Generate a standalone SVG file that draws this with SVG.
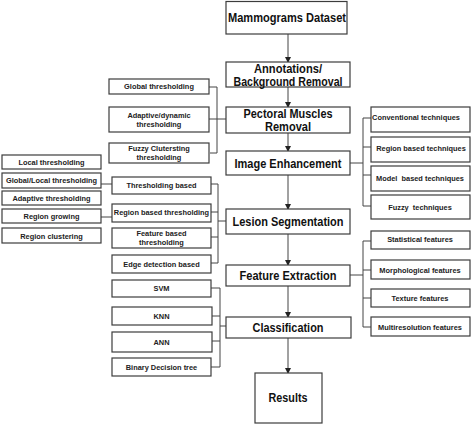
<svg xmlns="http://www.w3.org/2000/svg" width="474" height="426" viewBox="0 0 474 426">
<style>
.box{fill:#fff;stroke:#3c3c3c;stroke-width:1.2}
.main{font-family:"Liberation Sans",Arial,sans-serif;font-weight:bold;font-size:12.5px;fill:#111;text-anchor:middle}
.sm{font-family:"Liberation Sans",Arial,sans-serif;font-weight:bold;font-size:7.4px;fill:#222;text-anchor:middle}
.ln{fill:none;stroke:#444;stroke-width:1}
</style>
<defs>
<marker id="ah" markerWidth="6" markerHeight="6" refX="5" refY="3" orient="auto" markerUnits="userSpaceOnUse">
<path d="M0,0 L6,3 L0,6 Z" fill="#222"/>
</marker>
</defs>
<rect width="474" height="426" fill="#fff"/>
<g id="connectors">
<line class="ln" x1="288" y1="34" x2="288" y2="62" marker-end="url(#ah)"/>
<line class="ln" x1="288" y1="87" x2="288" y2="107" marker-end="url(#ah)"/>
<line class="ln" x1="288" y1="133" x2="288" y2="151" marker-end="url(#ah)"/>
<line class="ln" x1="288" y1="175" x2="288" y2="209" marker-end="url(#ah)"/>
<line class="ln" x1="288" y1="234" x2="288" y2="265" marker-end="url(#ah)"/>
<line class="ln" x1="288" y1="286" x2="288" y2="317" marker-end="url(#ah)"/>
<line class="ln" x1="288" y1="338" x2="288" y2="373" marker-end="url(#ah)"/>
<path class="ln" d="M209,87 H217 V153 H210 M209,119 H226"/>
<path class="ln" d="M211,184 H218 V263 H211 M211,212 H218 M211,237 H218 M218,221 H226"/>
<path class="ln" d="M101,184 H112 M101,217 H112"/>
<path class="ln" d="M211,288 H220 V367 H211 M212,316 H220 M212,341 H220 M220,326 H226"/>
<path class="ln" d="M350,163 H363 M371,118 H363 V206 H371 M363,147 H371 M363,175 H371"/>
<path class="ln" d="M350,275 H363 M371,241 H363 V327 H371 M363,270 H371 M363,298 H371"/>
</g>
<g id="n-mammograms"><rect class="box" x="226" y="1.5" width="121" height="32.5"/><text class="main" x="287" y="22" textLength="118" lengthAdjust="spacingAndGlyphs">Mammograms Dataset</text></g>
<g id="n-annotations"><rect class="box" x="226" y="62" width="124" height="25"/><text class="main" x="288" y="72.5" textLength="68" lengthAdjust="spacingAndGlyphs">Annotations/</text><text class="main" x="288" y="86" textLength="109" lengthAdjust="spacingAndGlyphs">Background Removal</text></g>
<g id="n-pectoral"><rect class="box" x="226" y="107" width="124" height="26"/><text class="main" x="288" y="117.5" textLength="89" lengthAdjust="spacingAndGlyphs">Pectoral Muscles</text><text class="main" x="288" y="131" textLength="46" lengthAdjust="spacingAndGlyphs">Removal</text></g>
<g id="n-enhancement"><rect class="box" x="226" y="151" width="124" height="24"/><text class="main" x="288" y="167.5" textLength="107" lengthAdjust="spacingAndGlyphs">Image Enhancement</text></g>
<g id="n-lesion"><rect class="box" x="226" y="209" width="124" height="25"/><text class="main" x="288" y="225.5" textLength="111" lengthAdjust="spacingAndGlyphs">Lesion Segmentation</text></g>
<g id="n-feature"><rect class="box" x="226" y="265" width="124" height="21"/><text class="main" x="288" y="279.5" textLength="97" lengthAdjust="spacingAndGlyphs">Feature Extraction</text></g>
<g id="n-classification"><rect class="box" x="226" y="317" width="125" height="21"/><text class="main" x="288" y="331.5" textLength="71" lengthAdjust="spacingAndGlyphs">Classification</text></g>
<g id="n-results"><rect class="box" x="255" y="373" width="67" height="50"/><text class="main" x="288" y="401.5" textLength="39" lengthAdjust="spacingAndGlyphs">Results</text></g>

<g id="n-global-th"><rect class="box" x="109" y="79" width="100" height="15"/><text class="sm" x="159" y="89">Global thresholding</text></g>
<g id="n-adaptive-dyn"><rect class="box" x="109" y="107" width="100" height="25"/><text class="sm" x="159" y="118">Adaptive/dynamic</text><text class="sm" x="159" y="127">thresholding</text></g>
<g id="n-fuzzy-clu"><rect class="box" x="109" y="143" width="100" height="20"/><text class="sm" x="159" y="151">Fuzzy Clutersting</text><text class="sm" x="159" y="160">thresholding</text></g>

<g id="n-local-th"><rect class="box" x="2" y="155" width="99" height="14"/><text class="sm" x="51.5" y="165">Local thresholding</text></g>
<g id="n-globallocal-th"><rect class="box" x="2" y="173" width="99" height="15"/><text class="sm" x="51.5" y="183">Global/Local thresholding</text></g>
<g id="n-adaptive-th"><rect class="box" x="2" y="191" width="99" height="14"/><text class="sm" x="51.5" y="200.5">Adaptive thresholding</text></g>
<g id="n-region-grow"><rect class="box" x="2" y="209" width="99" height="14"/><text class="sm" x="51.5" y="219">Region growing</text></g>
<g id="n-region-clu"><rect class="box" x="2" y="228" width="99" height="15"/><text class="sm" x="51.5" y="238.5">Region clustering</text></g>

<g id="n-thresh-based"><rect class="box" x="112" y="177" width="99" height="17"/><text class="sm" x="161.5" y="187.5">Thresholding based</text></g>
<g id="n-region-thresh"><rect class="box" x="112" y="204" width="99" height="18"/><text class="sm" x="161.5" y="215">Region based thresholding</text></g>
<g id="n-feature-thresh"><rect class="box" x="112" y="228" width="99" height="20"/><text class="sm" x="161.5" y="236">Feature based</text><text class="sm" x="161.5" y="244.5">thresholding</text></g>
<g id="n-edge"><rect class="box" x="112" y="255" width="99" height="18"/><text class="sm" x="161.5" y="266.5">Edge detection based</text></g>

<g id="n-svm"><rect class="box" x="112" y="280" width="99" height="17"/><text class="sm" x="161.5" y="290.5">SVM</text></g>
<g id="n-knn"><rect class="box" x="112" y="307" width="100" height="18"/><text class="sm" x="161.5" y="318.5">KNN</text></g>
<g id="n-ann"><rect class="box" x="112" y="332" width="100" height="20"/><text class="sm" x="161.5" y="344.5">ANN</text></g>
<g id="n-bdt"><rect class="box" x="112" y="358" width="99" height="18"/><text class="sm" x="161.5" y="370">Binary Decision tree</text></g>

<g id="n-conventional"><rect class="box" x="371" y="107" width="99" height="25"/><text class="sm" x="416" y="120">Conventional techniques</text></g>
<g id="n-region-tech"><rect class="box" x="371" y="137" width="99" height="25"/><text class="sm" x="421" y="151" xml:space="preserve">Region based techniques</text></g>
<g id="n-model-tech"><rect class="box" x="371" y="166" width="99" height="25"/><text class="sm" x="420" y="180.5" xml:space="preserve">Model  based techniques</text></g>
<g id="n-fuzzy-tech"><rect class="box" x="371" y="195" width="99" height="24"/><text class="sm" x="420" y="209.5" xml:space="preserve">Fuzzy  techniques</text></g>

<g id="n-statistical"><rect class="box" x="371" y="231" width="99" height="18"/><text class="sm" x="420" y="241.5">Statistical features</text></g>
<g id="n-morph"><rect class="box" x="371" y="260" width="99" height="19"/><text class="sm" x="420" y="272.5">Morphological features</text></g>
<g id="n-texture"><rect class="box" x="371" y="289" width="99" height="18"/><text class="sm" x="420" y="300.5">Texture features</text></g>
<g id="n-multires"><rect class="box" x="371" y="317" width="99" height="19"/><text class="sm" x="420" y="329.5">Multiresolution features</text></g>
</svg>
